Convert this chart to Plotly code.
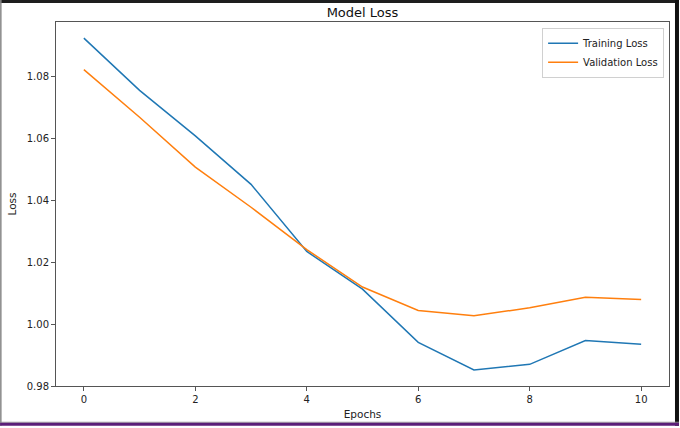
import plotly.graph_objects as go

epochs = list(range(11))
training_loss = [1.0925, 1.0756, 1.0609, 1.0452, 1.0235, 1.0113, 0.9941, 0.9852, 0.9870, 0.9947, 0.9935]
validation_loss = [1.0823, 1.0669, 1.0508, 1.0378, 1.0241, 1.0120, 1.0044, 1.0027, 1.0053, 1.0087, 1.0080]
y_ticks = [0.98, 1.00, 1.02, 1.04, 1.06, 1.08]
x_ticks = [0, 2, 4, 6, 8, 10]

W, H = 680, 428
L, R, T, B = 56, 10, 22, 40
pw, ph = W - L - R, H - T - B

def px_x(px):
    return (px - L) / pw

def px_y(py):
    return (H - B - py) / ph

fig = go.Figure()
fig.add_trace(go.Scatter(x=epochs, y=training_loss, mode="lines", name="Training Loss",
                         line=dict(color="#1f77b4", width=1.5)))
fig.add_trace(go.Scatter(x=epochs, y=validation_loss, mode="lines", name="Validation Loss",
                         line=dict(color="#ff7f0e", width=1.5)))

axis_common = dict(showline=True, mirror=True, linecolor="#555", linewidth=1,
                   ticks="outside", ticklen=4, tickcolor="#555", showgrid=False,
                   zeroline=False, tickfont=dict(size=10, color="#222"))

fig.update_xaxes(range=[-0.5, 10.5], tickvals=x_ticks,
                 title=dict(text="Epochs", font=dict(size=10.5, color="#222"), standoff=6),
                 **axis_common)
fig.update_yaxes(range=[0.98, 1.0977], tickvals=y_ticks, tickformat=".2f",
                 title=dict(text="Loss", font=dict(size=10.5, color="#222"), standoff=8),
                 **axis_common)

shapes = [
    dict(type="rect", xref="paper", yref="paper", x0=px_x(0), x1=px_x(W), y0=px_y(3), y1=px_y(0),
         fillcolor="#1e1e1e", line=dict(width=0), layer="above"),
    dict(type="rect", xref="paper", yref="paper", x0=px_x(0), x1=px_x(1.5), y0=px_y(H), y1=px_y(0),
         fillcolor="#888", line=dict(width=0), layer="above"),
    dict(type="rect", xref="paper", yref="paper", x0=px_x(676), x1=px_x(W), y0=px_y(H), y1=px_y(0),
         fillcolor="#111", line=dict(width=0), layer="above"),
    dict(type="rect", xref="paper", yref="paper", x0=px_x(0), x1=px_x(W), y0=px_y(425), y1=px_y(424),
         fillcolor="#999", line=dict(width=0), layer="above"),
    dict(type="rect", xref="paper", yref="paper", x0=px_x(0), x1=px_x(W), y0=px_y(H), y1=px_y(425),
         fillcolor="#5b1e78", line=dict(width=0), layer="above"),
]

fig.update_layout(
    width=W, height=H,
    margin=dict(l=L, r=R, t=T, b=B),
    paper_bgcolor="white", plot_bgcolor="white",
    font=dict(family="DejaVu Sans", color="#222"),
    title=dict(text="Model Loss", x=0.5, xref="paper", xanchor="center",
               y=1 - 12 / H, yref="container", yanchor="middle",
               font=dict(size=13, color="#111")),
    legend=dict(x=0.992, y=0.984, xanchor="right", yanchor="top",
                bgcolor="rgba(255,255,255,0.8)", bordercolor="#d0d0d0", borderwidth=1,
                font=dict(size=10, color="#222"), tracegroupgap=0, itemwidth=30),
    shapes=shapes,
    showlegend=True,
)

fig.write_html("out.html", config={"displayModeBar": False},
               post_script="document.body.style.margin='0';document.body.style.overflow='hidden';")
